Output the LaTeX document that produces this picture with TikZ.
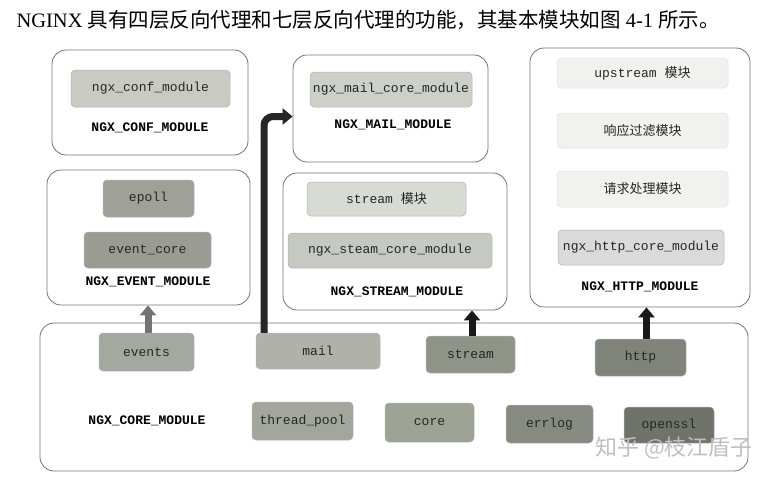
\documentclass[tikz,border=0pt]{standalone}
\usepackage{fontspec}
\setmainfont{Liberation Serif}
\setmonofont{Liberation Mono}
\newfontfamily\cjk{Noto Sans CJK SC}
\usetikzlibrary{arrows.meta}

\definecolor{confc}{HTML}{C9CBC3}
\definecolor{epollc}{HTML}{9FA199}
\definecolor{evcorec}{HTML}{9A9C94}
\definecolor{mailcc}{HTML}{CCD0C8}
\definecolor{strmc}{HTML}{D8DAD4}
\definecolor{strmcc}{HTML}{C6C9C1}
\definecolor{httpl}{HTML}{F1F1EF}
\definecolor{httpcc}{HTML}{DADADA}
\definecolor{eventsc}{HTML}{A4A89E}
\definecolor{mailc}{HTML}{B0B2AA}
\definecolor{streamc}{HTML}{8F9488}
\definecolor{httpc}{HTML}{7F8379}
\definecolor{threadc}{HTML}{A3A69B}
\definecolor{corec}{HTML}{9DA395}
\definecolor{errlogc}{HTML}{878A80}
\definecolor{sslc}{HTML}{707369}

\begin{document}
\begin{tikzpicture}[x=1pt,y=-1pt,>={Triangle[width=16pt,length=10pt]},font=\fontsize{13}{15}\selectfont\ttfamily]
\tikzstyle{grp}=[draw=black!55,line width=0.8pt,rounded corners=14pt,inner sep=0pt]
\tikzstyle{mod}=[draw=black!30,line width=0.5pt,rounded corners=4pt,inner sep=0pt,text=black!85]
\tikzstyle{lbl}=[font=\fontsize{13}{15}\selectfont\ttfamily\bfseries]
\tikzstyle{up}=[->,line width=7pt]
\useasboundingbox (0,0) rectangle (780,482);

\node[anchor=west,font=\fontsize{20.5}{24}\selectfont\rmfamily] (title) at (13,20) {NGINX {\cjk 具有四层反向代理和七层反向代理的功能，其基本模块如图} 4-1 {\cjk 所示。}};

% conf
\node[grp,minimum width=196pt,minimum height=105pt] (confm) at (150,102.5) {};
\node[mod,fill=confc,minimum width=159pt,minimum height=37pt] (conf) at (150.5,88.5) {ngx\_conf\_module};
\node[lbl] (conflbl) at (150,128) {NGX\_CONF\_MODULE};

% event
\node[grp,minimum width=203pt,minimum height=135pt] (evtm) at (148.5,237.5) {};
\node[mod,fill=epollc,minimum width=91pt,minimum height=37pt] (epoll) at (148.5,198.5) {epoll};
\node[mod,fill=evcorec,minimum width=127pt,minimum height=36pt] (evcore) at (147.5,250) {event\_core};
\node[lbl] (evtlbl) at (148,282) {NGX\_EVENT\_MODULE};

% mail
\node[grp,minimum width=195pt,minimum height=107pt] (mailm) at (390.5,108.5) {};
\node[mod,fill=mailcc,minimum width=162pt,minimum height=35pt] (mailcore) at (391,89.5) {ngx\_mail\_core\_module};
\node[lbl] (maillbl) at (393,125) {NGX\_MAIL\_MODULE};

% stream
\node[grp,minimum width=224pt,minimum height=137pt] (strmm) at (395,241.5) {};
\node[mod,fill=strmc,minimum width=159pt,minimum height=34pt] (strmmod) at (386.5,199) {stream {\cjk 模块}};
\node[mod,fill=strmcc,minimum width=204pt,minimum height=35pt] (strmcore) at (390,250.5) {ngx\_steam\_core\_module};
\node[lbl] (strmlbl) at (397,292) {NGX\_STREAM\_MODULE};

% http
\node[grp,minimum width=220pt,minimum height=259pt] (httpm) at (640,177.5) {};
\node[mod,fill=httpl,draw=black!12,minimum width=171pt,minimum height=30pt] (upstrm) at (642.5,73) {upstream {\cjk 模块}};
\node[mod,fill=httpl,draw=black!12,minimum width=171pt,minimum height=35pt] (filter) at (642.5,130.5) {\cjk 响应过滤模块};
\node[mod,fill=httpl,draw=black!12,minimum width=171pt,minimum height=36pt] (handler) at (642.5,189) {\cjk 请求处理模块};
\node[mod,fill=httpcc,minimum width=166pt,minimum height=35pt] (httpcore) at (641,247.5) {ngx\_http\_core\_module};
\node[lbl] (httplbl) at (640,287) {NGX\_HTTP\_MODULE};

% core
\node[grp,minimum width=708pt,minimum height=148pt] (corem) at (394,397) {};
\node[mod,fill=eventsc,minimum width=95pt,minimum height=38pt] (events) at (146.5,352) {events};
\node[mod,fill=mailc,minimum width=124pt,minimum height=36pt] (mail) at (318,351) {mail};
\node[mod,fill=streamc,minimum width=89pt,minimum height=37pt] (stream) at (470.5,354.5) {stream};
\node[mod,fill=httpc,minimum width=91pt,minimum height=37pt] (http) at (640.5,357.5) {http};
\node[lbl] (corelbl) at (147,421) {NGX\_CORE\_MODULE};
\node[mod,fill=threadc,minimum width=101pt,minimum height=38pt] (thread) at (302.5,421) {thread\_pool};
\node[mod,fill=corec,minimum width=89pt,minimum height=39pt] (core) at (429.5,422.5) {core};
\node[mod,fill=errlogc,minimum width=87pt,minimum height=38pt] (errlog) at (549.5,424) {errlog};
\node[mod,fill=sslc,minimum width=90pt,minimum height=36pt] (openssl) at (669,425) {openssl};

% arrows
\draw[up,draw=black!55] ([xshift=1.5pt]events.north) -- ([xshift=1.5pt]events.north |- evtm.south);
\draw[up,draw=black!85,rounded corners=9pt] ([xshift=-54pt]mail.north) |- ([yshift=-8pt]mailm.west);
\draw[up,draw=black!90] ([xshift=1.5pt]stream.north) -- ([xshift=1.5pt]stream.north |- strmm.south);
\draw[up,draw=black!90] ([xshift=6pt]http.north) -- ([xshift=6pt]http.north |- httpm.south);

\node[font=\fontsize{22}{24}\selectfont\cjk,text=black!25] (mark) at (674,448) {知乎 @枝江盾子};
\end{tikzpicture}
\end{document}
